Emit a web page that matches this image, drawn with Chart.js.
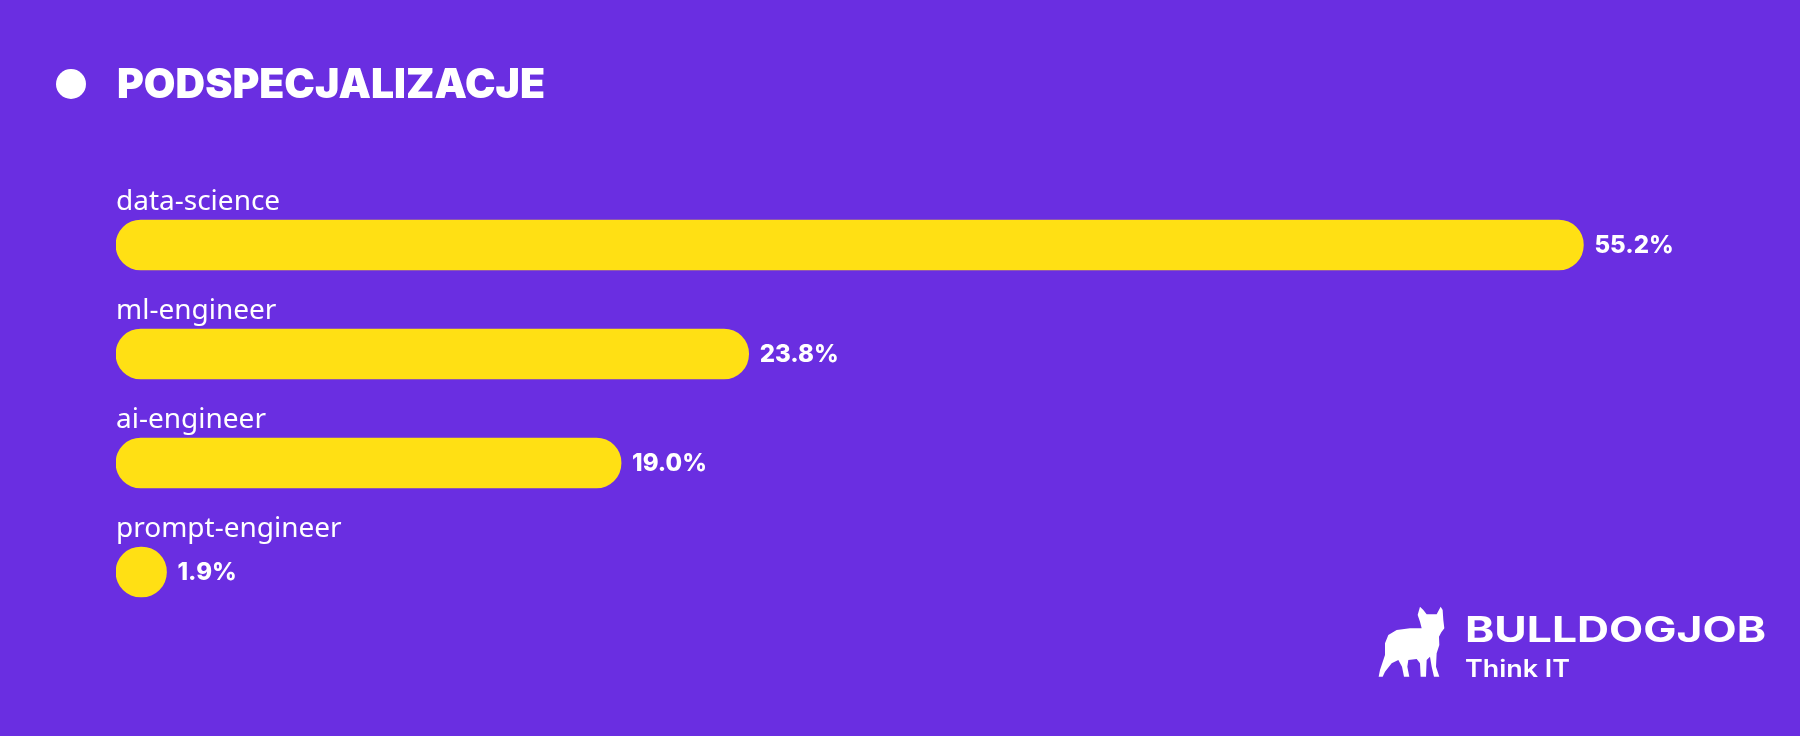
<!DOCTYPE html>
<html>
<head>
<meta charset="utf-8">
<script src="https://cdn.jsdelivr.net/npm/chart.js@4"></script>
<style>
  html, body { margin: 0; padding: 0; background: #6a2ee1; }
  #wrap { position: relative; width: 1800px; height: 736px; overflow: hidden; background: #6a2ee1; }
  #c { position: absolute; left: 0; top: 0; }
  #overlay { position: absolute; left: 0; top: 0; }
</style>
</head>
<body>
<div id="wrap">
  <canvas id="c" width="1800" height="736"></canvas>
  <svg id="overlay" width="1800" height="736" viewBox="0 0 1800 736">
    <circle cx="71" cy="84" r="15" fill="#ffffff"/>
    <text x="117" y="98" font-family="Inter, 'Open Sans', sans-serif" font-weight="900" font-size="41" fill="#ffffff" textLength="428" lengthAdjust="spacingAndGlyphs">PODSPECJALIZACJE</text>
    <g transform="translate(1370,595) scale(0.3333)">
      <path fill="#ffffff" d="M150,35 L160,45 L170,58 L200,58 L212,35 L218,45 L220,75 L223,100 L214,112 L207,125 L208,150 L200,175 L198,215 L208,245 L192,245 L185,215 L180,185 L170,195 L168,245 L152,245 L150,205 L140,192 L115,195 L112,215 L118,245 L102,245 L96,215 L85,195 L65,205 L45,230 L38,245 L26,245 L30,225 L45,180 L45,145 L55,120 L80,105 L120,100 L155,100 L150,80 L143,60 Z"/>
    </g>
    <text x="1465" y="642" font-family="Inter, 'Open Sans', sans-serif" font-weight="700" font-size="35" fill="#ffffff" textLength="301" lengthAdjust="spacingAndGlyphs">BULLDOGJOB</text>
    <text x="1465" y="677" font-family="Inter, 'Open Sans', sans-serif" font-weight="600" font-size="24" fill="#ffffff" textLength="105" lengthAdjust="spacingAndGlyphs">Think IT</text>
  </svg>
</div>
<script>
const categories = ['data-science', 'ml-engineer', 'ai-engineer', 'prompt-engineer'];
const shares = [55.2, 23.8, 19.0, 1.9];
const valueLabels = ['55.2%', '23.8%', '19.0%', '1.9%'];

const labelPlugin = {
  id: 'barLabels',
  afterDatasetsDraw(chart) {
    const ctx = chart.ctx;
    const meta = chart.getDatasetMeta(0);
    const left = chart.chartArea.left;
    ctx.save();
    meta.data.forEach((el, i) => {
      ctx.fillStyle = '#ffffff';
      ctx.textAlign = 'left';
      ctx.textBaseline = 'alphabetic';
      ctx.font = '400 28px "Noto Sans", "Open Sans", sans-serif';
      ctx.fillText(categories[i], left, el.y - 35);
      ctx.textBaseline = 'middle';
      ctx.font = '800 24px Inter, "Open Sans", sans-serif';
      ctx.fillText(valueLabels[i], el.x + 11, el.y + 1);
    });
    ctx.restore();
  }
};

new Chart(document.getElementById('c'), {
  type: 'bar',
  data: {
    labels: categories,
    datasets: [{
      data: shares,
      backgroundColor: '#ffe014',
      borderRadius: 25,
      borderSkipped: false,
      barThickness: 50
    }]
  },
  options: {
    indexAxis: 'y',
    responsive: false,
    animation: false,
    layout: { padding: { left: 116, right: 89, top: 190.5, bottom: 109.5 } },
    scales: {
      x: { display: false, min: 0, max: 60 },
      y: { display: false }
    },
    plugins: { legend: { display: false }, tooltip: { enabled: false } }
  },
  plugins: [labelPlugin]
});
</script>
</body>
</html>
